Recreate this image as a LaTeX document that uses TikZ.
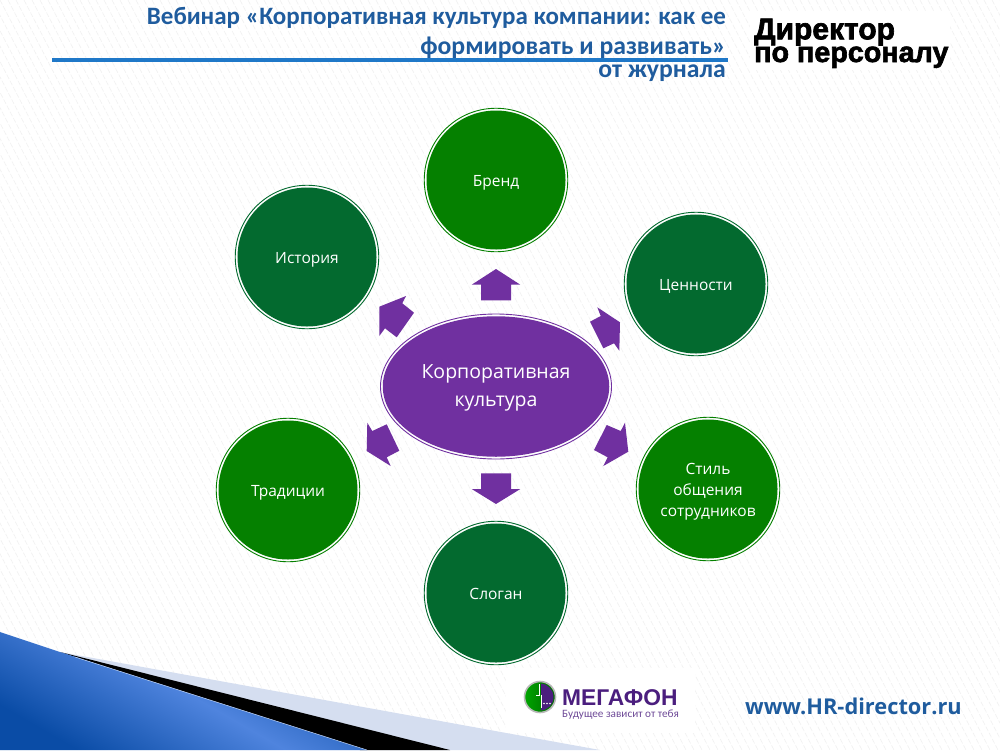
\documentclass[tikz,border=0pt]{standalone}
\usepackage{fontspec}
\setmainfont{Open Sans}
\newfontfamily\headfont{Carlito}
\newfontfamily\logofont{Liberation Sans}
\newfontfamily\heavyfont{Liberation Sans}[BoldFeatures={FakeBold=2.2}]
\usetikzlibrary{shapes.geometric}
\definecolor{darkgreen}{HTML}{036A2F}
\definecolor{midgreen}{HTML}{058000}
\definecolor{violet}{HTML}{7030A0}
\definecolor{headblue}{HTML}{1F5C9E}
\definecolor{rule}{HTML}{1F78C8}
\definecolor{urlblue}{HTML}{1F5C9E}
\definecolor{hatch}{HTML}{F1F1F1}
\definecolor{swdark}{HTML}{0A4CA6}
\definecolor{swlight}{HTML}{4F84DE}
\definecolor{swpale}{HTML}{D5DEF0}
\definecolor{mfviolet}{HTML}{4B1E7E}
\tikzset{
 x=1pt,y=-1pt,
 petal/.style={circle,minimum size=139pt,inner sep=0pt,draw=none,outer sep=0pt},
 ring/.style={circle,minimum size=143.5pt,inner sep=0pt,fill=none,line width=.9pt,outer sep=0pt},
 petaltext/.style={inner sep=0pt,align=center,text=white,font=\fontsize{15.5}{21}\selectfont,yshift=-2.5pt},
 hub/.style={ellipse,minimum width=226.5pt,minimum height=140.5pt,inner sep=0pt,outer sep=0pt,fill=violet,draw=none},
 hubring/.style={ellipse,minimum width=231pt,minimum height=145pt,inner sep=0pt,outer sep=0pt,draw=violet,line width=.9pt},
 hubtext/.style={inner sep=0pt,align=center,text=white,font=\fontsize{19.5}{27.5}\selectfont},
 blockarrow/.style={fill=violet,draw=none},
 headtext/.style={anchor=base east,inner sep=0pt,text=headblue},
 headfonta/.style={font=\headfont\bfseries\fontsize{25}{27}\selectfont},
 headfontb/.style={font=\headfont\bfseries\fontsize{25.7}{27}\selectfont},
}
\newcommand{\petalnode}[5]{%
 \node[ring,draw=#3] (#1r) at (#2) {};
 \node[petal,fill=#3] (#1) at (#2) {};
 \node[petaltext] (#1t) at (#5) {#4};
}
\begin{document}
\begin{tikzpicture}
\useasboundingbox (0,0) rectangle (1000,750);
\fill[white] (0,0) rectangle (1000,750);
\begin{scope}
\clip (0,0) rectangle (1000,750);
\foreach \i in {-760,-752,...,1000}
  \draw[hatch,line width=0.6pt,dash pattern=on 5pt off 2pt] (\i,0) -- ++(390,750);
% bottom-left swoosh
\fill[swpale] (60,652) -- (600,750) -- (300,750) -- cycle;
\fill[black] (60,652) -- (450,750) -- (360,750) -- cycle;
\shade[left color=swdark,right color=swdark,middle color=swlight,shading angle=-30] (0,632) -- (60,652) -- (367,750) -- (0,750) -- cycle;
\draw[white!65!swlight,line width=.5pt] (75,657) -- (367,750);
\end{scope}
% header
\node[headtext,headfonta] (t1) at (726,24.5) {Вебинар «Корпоративная культура компании: как ее};
\node[headtext,headfontb] (t2) at (726,54) {формировать и развивать»};
\node[headtext,headfontb] (t3) at (726,77.5) {от журнала};
\fill[rule] (52,58.3) rectangle (728,61.5);
% director logo
\fill[white] (750,12) rectangle (950,70);
\node[anchor=base west,inner sep=0pt,align=left,font=\heavyfont\bfseries\fontsize{28.7}{17.5}\selectfont] (logo) at (754,62) {{\fontsize{30}{17.5}\selectfont Директор}\\по персоналу};
% ring nodes
\petalnode{brand}{496,180}{midgreen}{Бренд}{496,180}
\petalnode{hist}{307,257}{darkgreen}{История}{307,257}
\petalnode{val}{696,284}{darkgreen}{Ценности}{696,284}
\petalnode{trad}{288,490}{midgreen}{Традиции}{288,490}
\petalnode{style}{708,489}{midgreen}{Стиль\\общения\\сотрудников}{708,489}
\petalnode{slog}{496,593}{darkgreen}{Слоган}{496,591}
% hub
\node[hubring] (hubr) at (496,386.5) {};
\node[hub] (hub) at (496,386.5) {};
\node[hubtext] (hubt) at (496,388) {Корпоративная\\культура};
% block arrows
\fill[blockarrow] (496,269) -- (520.3,284.7) -- (511,284.7) -- (511,300.3) -- (481,300.3) -- (481,284.7) -- (471.7,284.7) -- cycle;
\fill[blockarrow] (496,504) -- (520.3,489) -- (511,489) -- (511,473.3) -- (481,473.3) -- (481,489) -- (471.7,489) -- cycle;
\fill[blockarrow] (379.3,306.7) -- (406,296) -- (402.3,303.3) -- (414,312.7) -- (396.7,337.3) -- (385,328.3) -- (379.3,336) -- cycle;
\fill[blockarrow] (597.3,307.3) -- (620,322.3) -- (619.3,350.7) -- (614,343.3) -- (603.3,348.3) -- (590,321.7) -- (600.7,316) -- cycle;
\fill[blockarrow] (625,422.7) -- (628.3,451.7) -- (603.3,466) -- (607.7,457.3) -- (594,450) -- (606.7,425) -- (620.7,431) -- cycle;
\fill[blockarrow] (367.3,422.7) -- (372.3,431) -- (386.7,424.3) -- (399.3,450.7) -- (386.7,457.3) -- (390.7,466) -- (366.7,451) -- cycle;
% megafon logo
\fill[white] (506,668) rectangle (695,733);
\node[circle,minimum size=31pt,inner sep=0pt,outer sep=0pt,draw=gray!55,line width=1.6pt,left color=green!65!black,right color=green!40!black] (mfball) at (540,697) {};
\begin{scope}
\clip (540,697) circle (13.5);
\fill[mfviolet] (541,680) rectangle (560,715);
\end{scope}
\draw[white,line width=.8pt] (539,684) -- (539,695) -- (536,695) (541,695) -- (541,708);
\fill[white] (544,703.5) circle (.9) (547,703.5) circle (.9) (550,703.5) circle (.9);
\node[anchor=west,inner sep=0pt,text=mfviolet,font=\logofont\bfseries\fontsize{22.8}{24}\selectfont] (mf1) at (562,697.5) {МЕГАФОН};
\node[anchor=west,inner sep=0pt,text=mfviolet!80!white,font=\headfont\fontsize{11.2}{12}\selectfont] (mf2) at (562,715) {Будущее зависит от тебя};
% url
\node[anchor=east,inner sep=0pt,text=urlblue,font=\bfseries\fontsize{21.8}{23}\selectfont] (url) at (962,706) {www.HR-director.ru};
\end{tikzpicture}
\end{document}
